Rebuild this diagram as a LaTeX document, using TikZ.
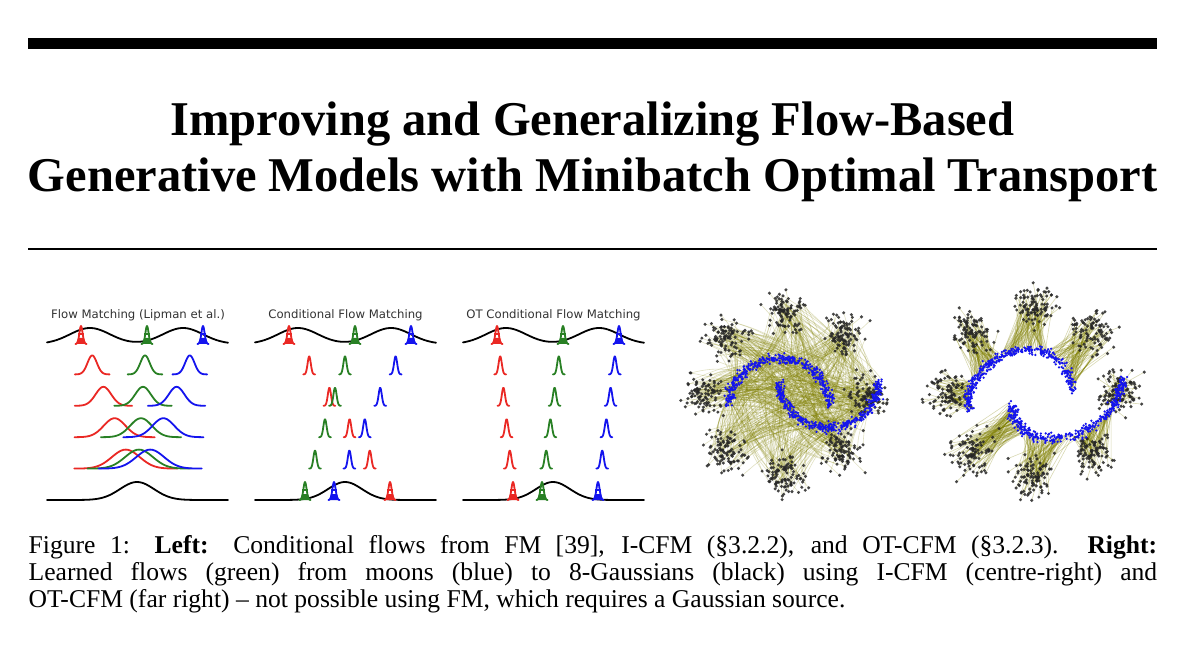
\documentclass[tikz,border=0pt]{standalone}
\usepackage{fontspec}
\setmainfont{Liberation Serif}
\newfontfamily\plotfont{DejaVu Sans}
\usetikzlibrary{positioning}

\definecolor{fmred}{RGB}{234,40,36}
\definecolor{fmgreen}{RGB}{40,128,36}
\definecolor{fmblue}{RGB}{20,20,238}
\definecolor{flowolive}{RGB}{128,128,0}
\definecolor{titlegray}{RGB}{51,51,51}

% gaussian bump: colour, panel left, baseline, mean, sigma, height
\newcommand{\bump}[6]{%
  \pgfmathsetmacro{\bumplo}{#4-3.7*(#5)}\pgfmathsetmacro{\bumphi}{#4+3.7*(#5)}%
  \draw[curve,#1] plot[domain=\bumplo:\bumphi,samples=45,smooth] ({#2+\x},{#3-#6*gs(\x,#4,#5)});}
% data point marker: colour, x, baseline
\newcommand{\datamark}[3]{%
  \fill[#1] ({#2-5},#3) -- ({#2+5},#3) -- ({#2+3},{#3-6}) -- ({#2-3},{#3-6}) -- cycle;
  \draw[#1,line width=1.4pt] ({#2-2.6},{#3-10}) -- ({#2+2.6},{#3-10});
  \draw[curve,#1] plot[domain=-5.6:5.6,samples=25,smooth] ({#2+\x},{#3-18*gs(\x,0,1.6)});}
\newcommand{\topdensity}[1]{%
  \draw[curve] plot[domain=0:181,samples=91,smooth] ({#1+\x},{344-16*(gs(\x,43,20)+gs(\x,136,20))});}
\newcommand{\basedensity}[1]{%
  \draw[curve] plot[domain=0:181,samples=91,smooth] ({#1+\x},{500-18*gs(\x,90,17)});}

\begin{document}
\begin{tikzpicture}[x=1pt,y=1pt,yscale=-1,
  declare function={gs(\p,\c,\w)=exp(-min(0.5*((\p-\c)/\w)*((\p-\c)/\w),9));},
  curve/.style={line width=1.8pt,line join=round,line cap=round},
  paneltitle/.style={anchor=base,inner sep=0,text=titlegray,font=\plotfont\fontsize{11.7}{13}\selectfont},
  papertitle/.style={anchor=base,inner sep=0,font=\fontsize{48.5}{56}\selectfont\bfseries},
  captext/.style={anchor=base west,inner sep=0,font=\fontsize{25.6}{27}\selectfont},
  flowline/.style={flowolive,opacity=0.24,line width=0.6pt},
  gausspt/.style={fill=black!85,opacity=0.85},
  moonpt/.style={fill=fmblue}]
	\useasboundingbox (0,0) rectangle (1200,652);
	\fill[white] (0,0) rectangle (1200,652);

	% Rules
	\fill (28,38) rectangle (1157,49);
	\draw[line width=2pt] (28,249.3) -- (1157,249.3);

	% Text Node
	\node[papertitle] (title1) at (592.5,136) {Improving and Generalizing Flow-Based};
	% Text Node
	\node[papertitle] (title2) at (592.5,192) {Generative Models with Minibatch Optimal Transport};

	% Text Node
	\node[paneltitle] (fm-title) at (138,319) {Flow Matching (Lipman et al.)};
	\node[paneltitle] (cfm-title) at (345.5,319) {Conditional Flow Matching};
	\node[paneltitle] (ot-title) at (553.5,319) {OT Conditional Flow Matching};

	% Flow Matching
	\topdensity{47}
	\foreach \col/\tgt in {fmred/34,fmgreen/100,fmblue/156}{\datamark{\col}{47+\tgt}{344}}
	\foreach \t in {0.2,0.4,0.6,0.8}{
		\pgfmathsetmacro{\rowy}{500-157*\t}
		\pgfmathsetmacro{\sig}{17*(1-\t)+1.6*\t}
		\foreach \col/\tgt in {fmred/34,fmgreen/100,fmblue/156}{
			\pgfmathsetmacro{\ctr}{90+\t*(\tgt-90)}
			\bump{\col}{47}{\rowy}{\ctr}{\sig}{19}
		}
	}
	\basedensity{47}

	% Conditional Flow Matching and OT version
	\foreach \ox/\rx/\gx/\bx in {255/135/50/79,463/50/79/135}{
		\topdensity{\ox}
		\foreach \col/\tgt in {fmred/34,fmgreen/100,fmblue/156}{\datamark{\col}{\ox+\tgt}{344}}
		\foreach \t in {0.2,0.4,0.6,0.8}{
			\pgfmathsetmacro{\rowy}{500-157*\t}
			\bump{fmred}{\ox}{\rowy}{\rx+\t*(34-\rx)}{1.6}{18}
			\bump{fmgreen}{\ox}{\rowy}{\gx+\t*(100-\gx)}{1.6}{18}
			\bump{fmblue}{\ox}{\rowy}{\bx+\t*(156-\bx)}{1.6}{18}
		}
		\basedensity{\ox}
		\datamark{fmred}{\ox+\rx}{500}
		\datamark{fmgreen}{\ox+\gx}{500}
		\datamark{fmblue}{\ox+\bx}{500}
	}

	% I-CFM samples: moons to 8 gaussians
	\pgfmathsetseed{4}
	\foreach \k in {0,...,7}{
		\foreach \i in {1,...,100}{
			\pgfmathsetmacro{\mm}{mod(\i,2)}
			\pgfmathsetmacro{\th}{180*rnd}
			\pgfmathsetmacro{\mx}{\mm+(1-2*\mm)*cos(\th)}
			\pgfmathsetmacro{\my}{0.5*\mm+(1-2*\mm)*sin(\th)}
			\coordinate (icfm-m\k-\i) at ({804+50*(\mx-0.5)+2.4*(rand+rand+rand)},{393-46*(\my-0.25)+2.4*(rand+rand+rand)});
			\coordinate (icfm-g\k-\i) at ({785+82*cos(45*\k)+9.5*(rand+rand+rand)},{394-82*sin(45*\k)+9.5*(rand+rand+rand)});
		}
	}
	% OT-CFM samples
	\pgfmathsetseed{7}
	\foreach \k/\mm/\lo/\hi in {0/1/145/180,1/0/0/60,2/0/60/112,3/0/112/150,4/0/150/180,5/1/0/40,6/1/40/95,7/1/95/145}{
		\foreach \i in {1,...,100}{
			\pgfmathsetmacro{\th}{\lo+(\hi-\lo)*rnd}
			\pgfmathsetmacro{\mx}{ifthenelse(\mm==0,1020+52*cos(\th),1067-55*cos(\th))}
			\pgfmathsetmacro{\my}{ifthenelse(\mm==0,400-50*sin(\th)-7.8*cos(\th),391.5+45.5*sin(\th)+13.5*cos(\th))}
			\coordinate (ot-m\k-\i) at ({\mx+2.4*(rand+rand+rand)},{\my+2.4*(rand+rand+rand)});
			\coordinate (ot-g\k-\i) at ({1033+86*cos(45*\k)+10*(rand+rand+rand)},{392-86*sin(45*\k)+10*(rand+rand+rand)});
		}
	}

	% Connection
	\foreach \k in {0,...,7}{\foreach \i in {1,...,100}{
		\draw[flowline] (icfm-m\k-\i) to[bend left=14] (icfm-g\k-\i);
		\draw[flowline,opacity=0.3] (ot-m\k-\i) -- (ot-g\k-\i);
	}}
	\foreach \k in {0,...,7}{\foreach \i in {1,...,100}{
		\fill[gausspt] (icfm-g\k-\i) circle[radius=1.7];
		\fill[gausspt] (ot-g\k-\i) circle[radius=1.7];
	}}
	\foreach \k in {0,...,7}{\foreach \i in {1,...,100}{
		\fill[moonpt] (icfm-m\k-\i) circle[radius=1.25];
		\fill[moonpt] (ot-m\k-\i) circle[radius=1.25];
	}}

	% Text Node
	\node[captext] (cap1) at (28.5,553.3) {\makebox[1128.5pt][s]{Figure 1: \textbf{Left:} Conditional flows from FM [39], I-CFM (\S3.2.2), and OT-CFM (\S3.2.3).\ \ \textbf{Right:}}};
	\node[captext] (cap2) at (28.5,580.3) {\makebox[1128.5pt][s]{Learned flows (green) from moons (blue) to 8-Gaussians (black) using I-CFM (centre-right) and}};
	\node[captext] (cap3) at (28.5,607.3) {OT-CFM (far right) -- not possible using FM, which requires a Gaussian source.};
\end{tikzpicture}
\end{document}
